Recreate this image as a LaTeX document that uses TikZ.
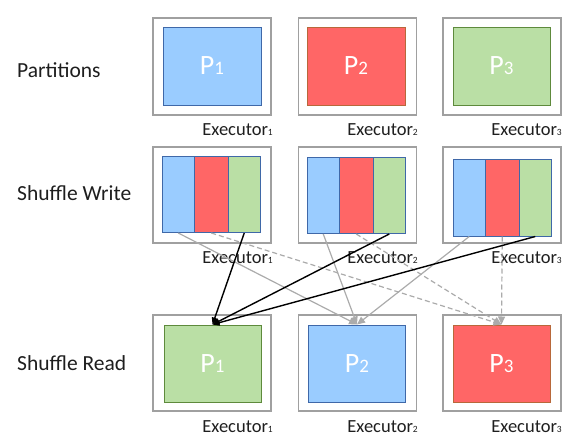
\documentclass[tikz,border=0pt]{standalone}
\usepackage{fontspec}
\setmainfont{Carlito}
\usetikzlibrary{arrows.meta,calc}
\definecolor{pblue}{HTML}{9ACCFF}
\definecolor{pred}{HTML}{FF6666}
\definecolor{pgreen}{HTML}{BADFA5}
\definecolor{bblue}{HTML}{3F68A8}
\definecolor{bred}{HTML}{B8683A}
\definecolor{bgreen}{HTML}{5E8A3C}
\definecolor{outerc}{HTML}{A0A0A0}
\definecolor{arrgray}{HTML}{ABABAB}
\definecolor{txt}{HTML}{1E1E1E}
\newcommand{\plabel}[1]{{\fontsize{28}{28}\selectfont P\fontsize{19}{19}\selectfont #1}}
\newcommand{\exlabel}[1]{{\fontsize{18.5}{18.5}\selectfont Executor\fontsize{9.5}{9.5}\selectfont #1}}
\begin{document}
\begin{tikzpicture}[x=1pt,y=-1pt,
  outerbox/.style={draw=outerc, line width=1.1pt, fill=white, inner sep=0pt,
    minimum width=118pt, minimum height=96pt},
  innerbox/.style={line width=1pt, inner sep=0pt, text=white,
    minimum width=97pt, minimum height=77pt},
  bluebox/.style={innerbox, fill=pblue, draw=bblue},
  redbox/.style={innerbox, fill=pred, draw=bred},
  greenbox/.style={innerbox, fill=pgreen, draw=bgreen},
  sect/.style={line width=1pt, draw=bblue, inner sep=0pt, anchor=north west,
    minimum height=76pt},
  sblue/.style={sect, fill=pblue, minimum width=31.5pt},
  sred/.style={sect, fill=pred, minimum width=34.5pt},
  sgreen/.style={sect, fill=pgreen, minimum width=31.5pt},
  exec/.style={inner sep=0pt, anchor=base east, text=txt},
  rowlabel/.style={inner sep=0pt, anchor=base west, text=txt,
    font=\fontsize{21.5}{21.5}\selectfont},
  blackarrow/.style={draw=black, line width=1.4pt,
    -{Triangle[length=7pt,width=6pt]}},
  grayarrow/.style={draw=arrgray, line width=1.2pt,
    -{Triangle[length=8pt,width=7pt]}},
  dasharrow/.style={grayarrow, dash pattern=on 5pt off 3pt}
]
\useasboundingbox (0,0) rectangle (582,445);

% row labels
\node[rowlabel] (lpart) at (17,77) {Partitions};
\node[rowlabel] (lwrite) at (17,200) {Shuffle Write};
\node[rowlabel] (lread) at (17,370) {Shuffle Read};

% Row 1: Partitions
\node[outerbox, minimum height=97pt] (o11) at (212,66.5) {};
\node[outerbox, minimum height=97pt] (o12) at (357.5,66.5) {};
\node[outerbox, minimum height=97pt] (o13) at (502,66.5) {};
\node[bluebox, minimum width=98pt, minimum height=78pt] (p11) at (212,66) {\plabel{1}};
\node[redbox, minimum width=98pt, minimum height=78pt] (p12) at (356,66) {\plabel{2}};
\node[greenbox, minimum width=97pt, minimum height=78pt] (p13) at (501.5,66) {\plabel{3}};
\node[exec] (e11) at (273,135) {\exlabel{1}};
\node[exec] (e12) at (418,135) {\exlabel{2}};
\node[exec] (e13) at (562,135) {\exlabel{3}};

% Row 2: Shuffle Write
\node[outerbox] (o21) at (212,195) {};
\node[outerbox] (o22) at (357.5,195) {};
\node[outerbox] (o23) at (502,195) {};
\node[sblue] (w1b) at (162,156) {};
\node[sred] (w1r) at (193.5,156) {};
\node[sgreen] (w1g) at (228,156) {};
\node[sblue] (w2b) at (307,157) {};
\node[sred] (w2r) at (338.5,157) {};
\node[sgreen] (w2g) at (373,157) {};
\node[sblue, minimum height=77pt] (w3b) at (453,158.5) {};
\node[sred, minimum height=77pt] (w3r) at (484.5,158.5) {};
\node[sgreen, minimum height=77pt] (w3g) at (519,158.5) {};
\node[exec] (e21) at (273,263) {\exlabel{1}};
\node[exec] (e22) at (418,263) {\exlabel{2}};
\node[exec] (e23) at (562,263) {\exlabel{3}};

% Row 3: Shuffle Read
\node[outerbox] (o31) at (212,363) {};
\node[outerbox] (o32) at (357.5,363) {};
\node[outerbox] (o33) at (502,363) {};
\node[greenbox] (r1) at (212.5,363.5) {\plabel{1}};
\node[bluebox] (r2) at (357,363.5) {\plabel{2}};
\node[redbox] (r3) at (501.5,363.5) {\plabel{3}};
\node[exec] (e31) at (273,432) {\exlabel{1}};
\node[exec] (e32) at (418,432) {\exlabel{2}};
\node[exec] (e33) at (562,432) {\exlabel{3}};

% connectors
\draw[dasharrow] (w1r.south) -- (r3.north);
\draw[dasharrow] (w2r.south) -- (r3.north);
\draw[dasharrow] (w3r.south) -- (r3.north);
\draw[grayarrow] (w1b.south) -- (r2.north);
\draw[grayarrow] (w2b.south) -- (r2.north);
\draw[grayarrow] (w3b.south) -- (r2.north);
\draw[blackarrow] (w1g.south) -- (r1.north);
\draw[blackarrow] (w2g.south) -- (r1.north);
\draw[blackarrow] (w3g.south) -- (r1.north);
\end{tikzpicture}
\end{document}
